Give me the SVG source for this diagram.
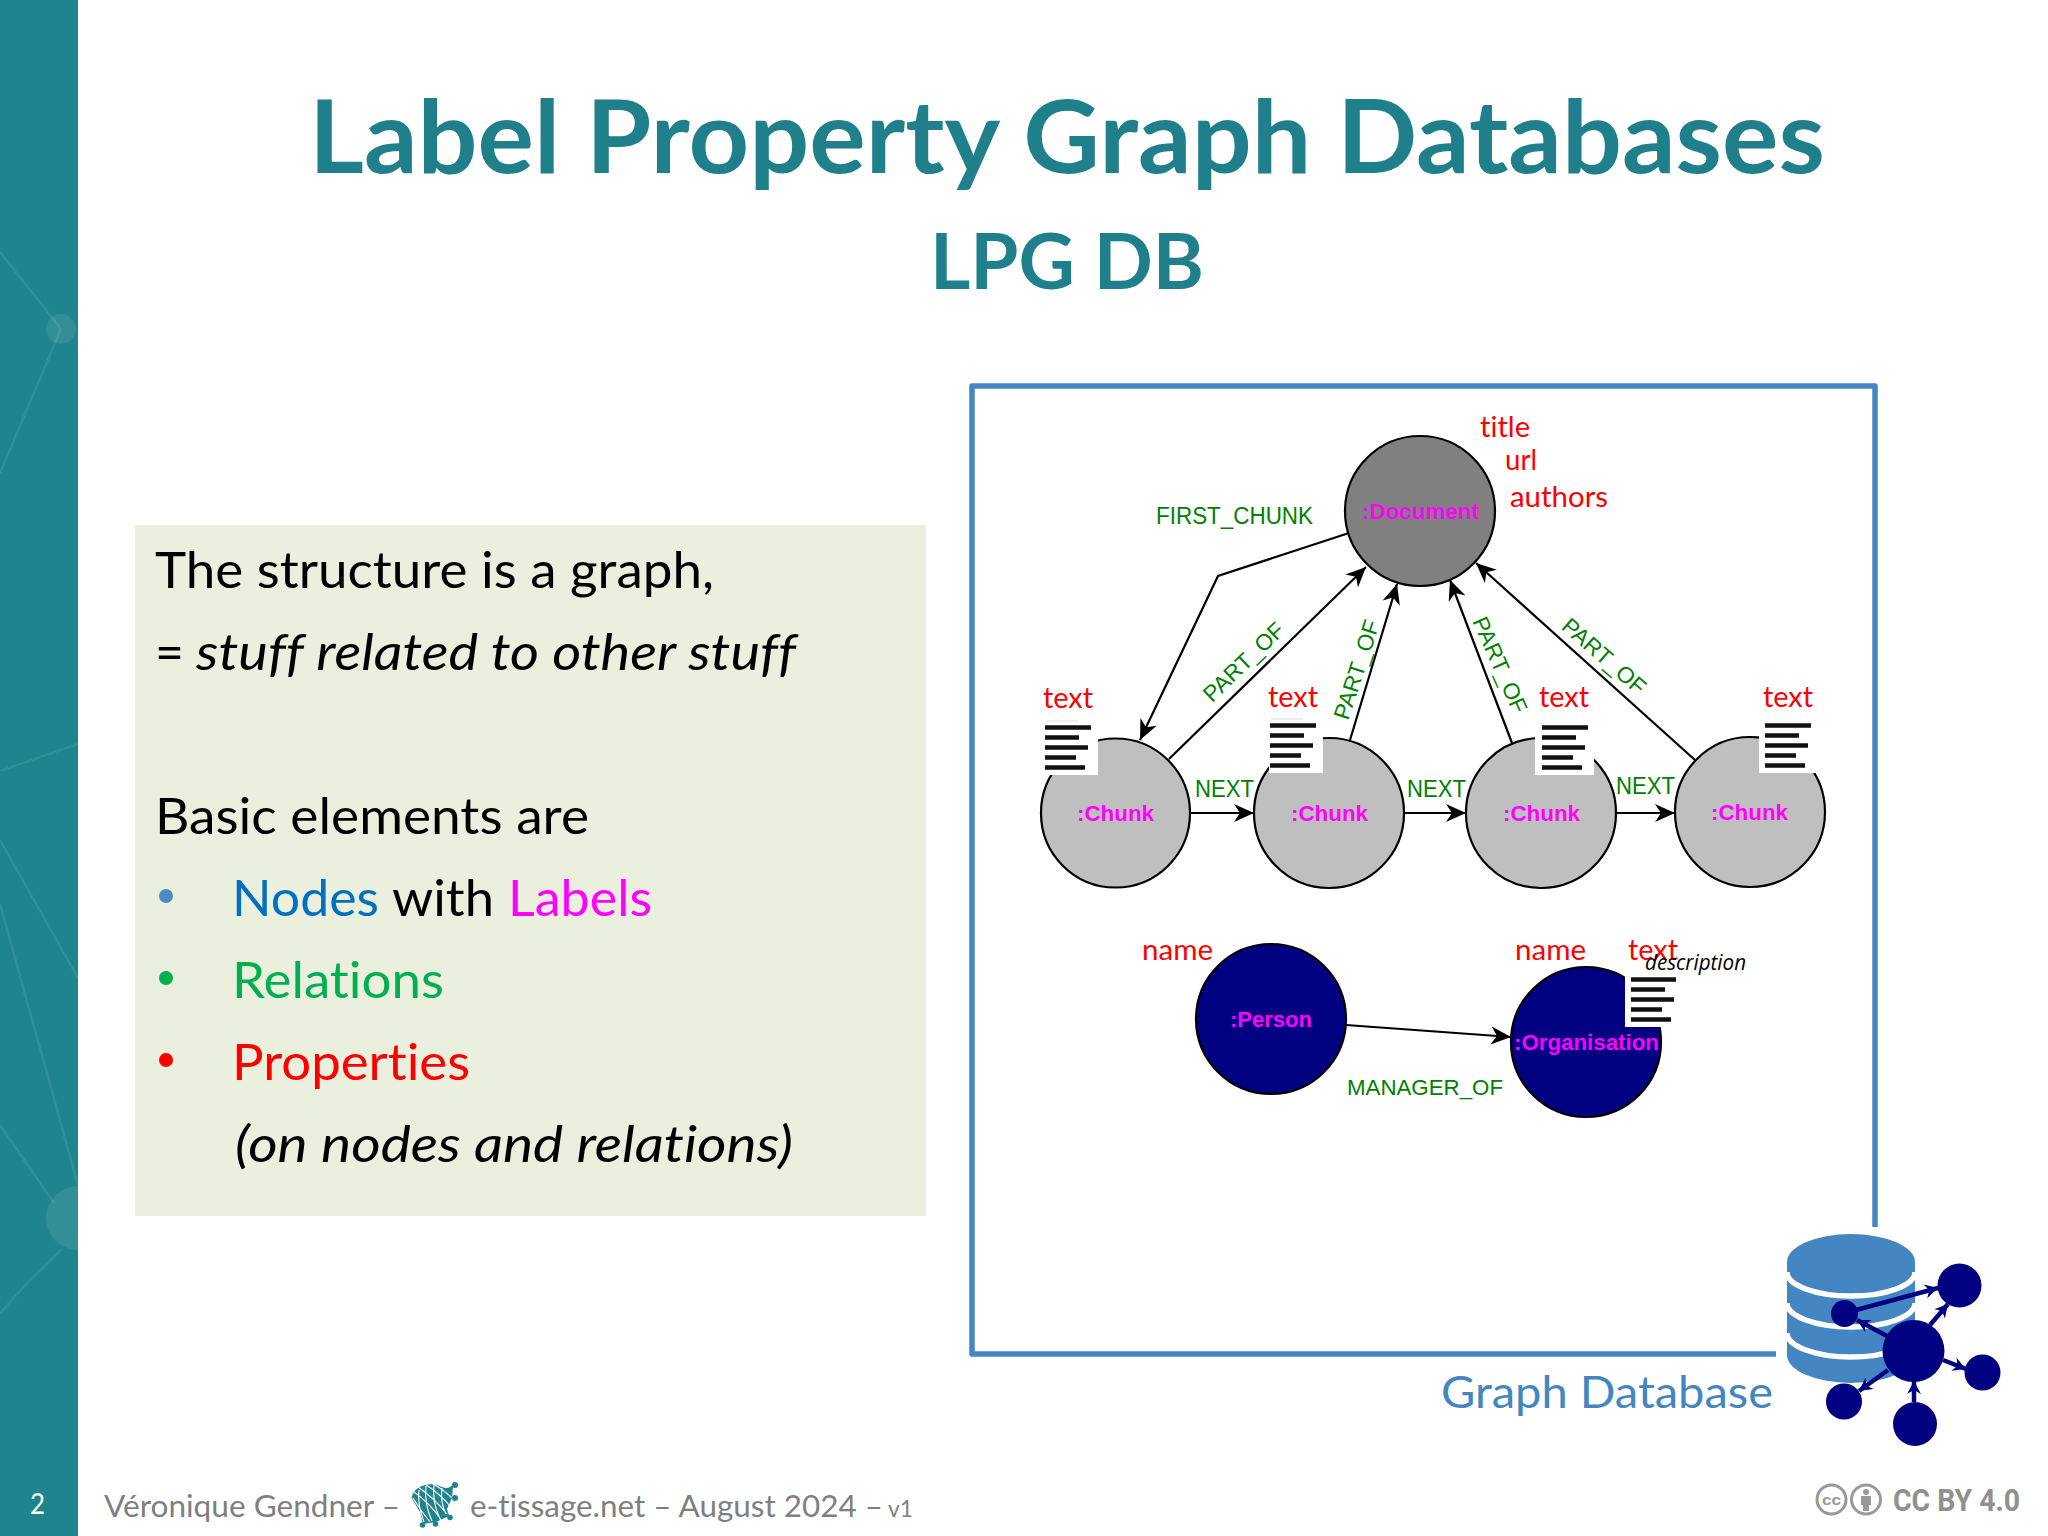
<svg xmlns="http://www.w3.org/2000/svg" width="2048" height="1536" viewBox="0 0 2048 1536">
<style>
text{font-family:"Lato","Liberation Sans",sans-serif;font-variant-ligatures:none}
.t{fill:#1f808c;font-weight:700;text-anchor:start}
.b{font-size:50px;fill:#000}
.i{font-style:italic}
.p{font-size:29px;fill:#f00}
.g{font-family:"Liberation Sans",Arial,sans-serif;font-size:23px;fill:#008000}
.o{font-size:22.5px;text-anchor:middle}
.m{font-family:"Liberation Sans",Arial,sans-serif;font-size:22px;font-weight:700;fill:#f0f}
.f{font-size:31px;fill:#7f7f7f}
.n{stroke:#000;stroke-width:2.2}
.e{fill:none;stroke:#000;stroke-width:2.2;marker-end:url(#ah)}
.s{fill:none;stroke:#000080;stroke-width:4.5;marker-end:url(#sa)}
.l{stroke:#111;stroke-width:4.5}
.w{fill:#fff}
.bg{fill:none;stroke:#fff;stroke-opacity:.09;stroke-width:2.5}
.net{fill:none;stroke:#1f848d;stroke-width:1.6}
.mesh{fill:none;stroke:#fff;stroke-width:1.1}
</style>
<defs>
<marker id="ah" markerUnits="userSpaceOnUse" markerWidth="22" markerHeight="20" refX="20" refY="10" orient="auto"><path d="M20,10L0,1L6,10L0,19Z" fill="#000"/></marker>
<marker id="sa" markerUnits="userSpaceOnUse" markerWidth="16" markerHeight="16" refX="14" refY="8" orient="auto"><path d="M14,8L1,1L5,8L1,15Z" fill="#000080"/></marker>
<g id="doc"><rect class="w" width="54" height="54"/><g class="l"><path d="M1,6.5h46M1,16.5h34M1,26.5h43M1,36.5h31M1,46.5h40"/></g><path d="M2,0h32" stroke="#ddd" stroke-width="1"/></g>
</defs>
<rect width="2048" height="1536" fill="#fff"/>
<g id="sidebar">
<rect width="78" height="1536" fill="#1f848d"/>
<path class="bg" d="M0,252L61,329L0,473M0,771L78,744M0,840L78,978M0,904L78,1185M0,1125L54,1203M0,1313L29,1281L62,1249"/>
<circle cx="61" cy="329" r="15" fill="#fff" fill-opacity=".09"/>
<path d="M78,1186A32,32 0 0 0 78,1250Z" fill="#fff" fill-opacity=".09"/>
<text x="30" y="1514" font-size="29" fill="#fff" textLength="15" lengthAdjust="spacingAndGlyphs">2</text>
</g>
<g id="title">
<text class="t" x="309" y="173" font-size="101" textLength="1516" lengthAdjust="spacingAndGlyphs">Label Property Graph Databases</text>
<text class="t" x="930" y="289" font-size="76" textLength="274" lengthAdjust="spacingAndGlyphs">LPG DB</text>
</g>
<g id="textbox">
<rect x="135" y="525" width="791" height="691" fill="#ebf0de"/>
<text class="b" x="155" y="588" textLength="559" lengthAdjust="spacingAndGlyphs">The structure is a graph,</text>
<text class="b" x="155" y="670" textLength="29" lengthAdjust="spacingAndGlyphs">=</text>
<text class="b i" x="196" y="670" textLength="600" lengthAdjust="spacingAndGlyphs">stuff related to other stuff</text>
<text class="b" x="155" y="834" textLength="434" lengthAdjust="spacingAndGlyphs">Basic elements are</text>
<circle cx="166" cy="896" r="7" fill="#4a8bc4"/>
<text class="b" x="232" y="916" textLength="147" lengthAdjust="spacingAndGlyphs" style="fill:#0070c0">Nodes</text>
<text class="b" x="392" y="916" textLength="102" lengthAdjust="spacingAndGlyphs">with</text>
<text class="b" x="508" y="916" textLength="144" lengthAdjust="spacingAndGlyphs" style="fill:#f0f">Labels</text>
<circle cx="166" cy="978" r="7" fill="#00b050"/>
<text class="b" x="232" y="998" textLength="212" lengthAdjust="spacingAndGlyphs" style="fill:#00b050">Relations</text>
<circle cx="166" cy="1060" r="7" fill="#f00"/>
<text class="b" x="232" y="1080" textLength="238" lengthAdjust="spacingAndGlyphs" style="fill:#f00">Properties</text>
<text class="b i" x="235" y="1162" textLength="558" lengthAdjust="spacingAndGlyphs">(on nodes and relations)</text>
</g>
<g id="frame">
<path d="M1776,1354H972V386H1875V1227" fill="none" stroke="#4386c2" stroke-width="5.5" stroke-linejoin="round"/>
<text x="1441" y="1408" font-size="44" fill="#4386c2" textLength="332" lengthAdjust="spacingAndGlyphs">Graph Database</text>
</g>
<g id="node-document">
<circle class="n" cx="1420" cy="511" r="75" fill="#808080"/>
<text class="m" x="1362" y="519" textLength="117" lengthAdjust="spacingAndGlyphs">:Document</text>
<text class="p" x="1480" y="437" textLength="50" lengthAdjust="spacingAndGlyphs">title</text>
<text class="p" x="1505" y="470" textLength="32" lengthAdjust="spacingAndGlyphs">url</text>
<text class="p" x="1510" y="507" textLength="98" lengthAdjust="spacingAndGlyphs">authors</text>
</g>
<g id="node-chunk-1">
<circle class="n" cx="1115.5" cy="813" r="74.5" fill="#bfbfbf"/>
<use href="#doc" x="1044" y="721"/>
<text class="m" x="1077" y="821" textLength="77" lengthAdjust="spacingAndGlyphs">:Chunk</text>
<text class="p" x="1043" y="708" textLength="50" lengthAdjust="spacingAndGlyphs">text</text>
</g>
<g id="node-chunk-2">
<circle class="n" cx="1329" cy="813" r="75" fill="#bfbfbf"/>
<use href="#doc" x="1269" y="719"/>
<text class="m" x="1291" y="821" textLength="77" lengthAdjust="spacingAndGlyphs">:Chunk</text>
<text class="p" x="1268" y="707" textLength="50" lengthAdjust="spacingAndGlyphs">text</text>
</g>
<g id="node-chunk-3">
<circle class="n" cx="1541" cy="813" r="75" fill="#bfbfbf"/>
<rect class="w" x="1535" y="721" width="59" height="54"/>
<g class="l"><path d="M1542,727.5h46M1542,737.5h34M1542,747.5h43M1542,757.5h31M1542,767.5h40"/></g>
<text class="m" x="1503" y="821" textLength="77" lengthAdjust="spacingAndGlyphs">:Chunk</text>
<text class="p" x="1539" y="707" textLength="50" lengthAdjust="spacingAndGlyphs">text</text>
</g>
<g id="node-chunk-4">
<circle class="n" cx="1750" cy="812" r="75" fill="#bfbfbf"/>
<rect class="w" x="1759" y="719" width="58" height="54"/>
<g class="l"><path d="M1765,725.5h46M1765,735.5h34M1765,745.5h43M1765,755.5h31M1765,765.5h40"/></g>
<text class="m" x="1711" y="820" textLength="77" lengthAdjust="spacingAndGlyphs">:Chunk</text>
<text class="p" x="1763" y="707" textLength="50" lengthAdjust="spacingAndGlyphs">text</text>
</g>
<g id="node-person">
<circle class="n" cx="1271" cy="1019" r="75" fill="#000080"/>
<text class="m" x="1230" y="1027" textLength="82" lengthAdjust="spacingAndGlyphs">:Person</text>
<text class="p" x="1142" y="960" textLength="71" lengthAdjust="spacingAndGlyphs">name</text>
</g>
<g id="node-organisation">
<circle class="n" cx="1586" cy="1042" r="75" fill="#000080"/>
<rect class="w" x="1625" y="972" width="55" height="55"/>
<g class="l"><path d="M1631,979.5h45M1631,989.5h34M1631,999.5h43M1631,1009.5h31M1631,1019.5h40"/></g>
<text class="m" x="1514" y="1050" textLength="145" lengthAdjust="spacingAndGlyphs">:Organisation</text>
<text class="p" x="1515" y="960" textLength="71" lengthAdjust="spacingAndGlyphs">name</text>
<text class="p" x="1628" y="960" textLength="50" lengthAdjust="spacingAndGlyphs">text</text>
<text x="1645" y="970" font-size="21" font-style="italic" fill="#000" textLength="101" lengthAdjust="spacingAndGlyphs" style="font-family:'Open Sans',sans-serif">description</text>
</g>
<g id="connectors">
<path class="e" d="M1349,533L1218,576L1140,740"/>
<path class="e" d="M1169,759L1366,567"/>
<path class="e" d="M1350,740L1397,584"/>
<path class="e" d="M1512,743L1450,580"/>
<path class="e" d="M1695,760L1476,563"/>
<path class="e" d="M1190,813H1254"/>
<path class="e" d="M1404,813H1466"/>
<path class="e" d="M1616,813H1675"/>
<path class="e" d="M1346,1025L1511,1037"/>
<text class="g" x="1156" y="524" textLength="157" lengthAdjust="spacingAndGlyphs">FIRST_CHUNK</text>
<text class="g" x="1195" y="797" textLength="59" lengthAdjust="spacingAndGlyphs">NEXT</text>
<text class="g" x="1407" y="797" textLength="59" lengthAdjust="spacingAndGlyphs">NEXT</text>
<text class="g" x="1616" y="794" textLength="59" lengthAdjust="spacingAndGlyphs">NEXT</text>
<text class="g" x="1347" y="1095" textLength="156" lengthAdjust="spacingAndGlyphs" style="font-size:22px">MANAGER_OF</text>
<text class="g o" textLength="103" lengthAdjust="spacingAndGlyphs" transform="translate(1249,667.5) rotate(-44)">PART_OF</text>
<text class="g o" textLength="103" lengthAdjust="spacingAndGlyphs" transform="translate(1364,672) rotate(-72)">PART_OF</text>
<text class="g o" textLength="103" lengthAdjust="spacingAndGlyphs" transform="translate(1493,668) rotate(66)">PART_OF</text>
<text class="g o" textLength="103" lengthAdjust="spacingAndGlyphs" transform="translate(1599,662) rotate(41)">PART_OF</text>
</g>
<g id="db-icon">
<path d="M1787,1262V1355A64,28 0 0 0 1915,1355V1262Z" fill="#4386c2"/>
<ellipse cx="1851" cy="1262" rx="64" ry="28" fill="#4386c2"/>
<path d="M1787,1272A64,24 0 0 0 1915,1272M1787,1303A64,24 0 0 0 1915,1303M1787,1333A64,24 0 0 0 1915,1333" fill="none" stroke="#fff" stroke-width="5.5"/>
<path class="s" d="M1856,1310L1938,1288"/>
<path class="s" d="M1887,1336L1857,1320"/>
<path class="s" d="M1930,1325L1948,1304"/>
<path class="s" d="M1943,1360L1966,1369"/>
<path class="s" d="M1888,1370L1859,1391"/>
<path class="s" d="M1914,1402V1381"/>
<g fill="#000080">
<circle cx="1844.5" cy="1313.5" r="13.5"/>
<circle cx="1913.5" cy="1351" r="31"/>
<circle cx="1959.5" cy="1285.5" r="22"/>
<circle cx="1982.5" cy="1372.5" r="18"/>
<circle cx="1844" cy="1401.5" r="18"/>
<circle cx="1915" cy="1424" r="22"/>
</g>
</g>
<g id="license">
<circle cx="1831.5" cy="1499.5" r="14.5" fill="none" stroke="#999" stroke-width="3"/>
<circle cx="1866" cy="1499.5" r="14.5" fill="none" stroke="#999" stroke-width="3"/>
<text x="1822" y="1505" font-size="14" font-weight="700" fill="#999" textLength="19" lengthAdjust="spacingAndGlyphs" style="font-family:'Liberation Sans',sans-serif">cc</text>
<circle cx="1866" cy="1492" r="3" fill="#999"/>
<path d="M1861,1496h10v9h-2v6h-6v-6h-2Z" fill="#999"/>
<text x="1893" y="1511" font-size="31" font-weight="700" fill="#909090" textLength="127" lengthAdjust="spacingAndGlyphs" style="font-family:Roboto,sans-serif">CC BY 4.0</text>
</g>
<g id="footer">
<text class="f" x="104" y="1517" textLength="296" lengthAdjust="spacingAndGlyphs">Véronique Gendner –</text>
<text class="f" x="470" y="1517" textLength="413" lengthAdjust="spacingAndGlyphs">e-tissage.net – August 2024 –</text>
<text x="888" y="1517" font-size="24" fill="#7f7f7f" textLength="25" lengthAdjust="spacingAndGlyphs">v1</text>
<g id="logo">
<path class="net" d="M453,1486L447,1490M452,1498L444,1497M449,1516L443,1510M436,1523L433,1517M423,1524L424,1516"/>
<path d="M411.7,1498C413,1487 427,1482 437,1485C442,1487 447,1490 453,1486L452,1498L447,1509L449,1516L436,1522L423,1524L420,1512Z" fill="#1f848d"/>
<path class="mesh" d="M414,1492Q430,1503 442,1521M418,1487Q434,1498 447,1514M425,1484Q440,1494 450,1506M433,1484Q444,1490 452,1498M413,1498Q420,1510 430,1522M419,1490Q417,1504 424,1522M426,1486Q424,1504 432,1521M434,1485Q432,1502 440,1519M442,1488Q440,1502 446,1514"/>
<g fill="#1f848d"><circle cx="455" cy="1485" r="3"/><circle cx="455" cy="1498" r="3"/><circle cx="450" cy="1517.5" r="2.8"/><circle cx="435.5" cy="1524" r="2.8"/><circle cx="422.5" cy="1525" r="2.8"/></g>
</g>
</g>
</svg>
